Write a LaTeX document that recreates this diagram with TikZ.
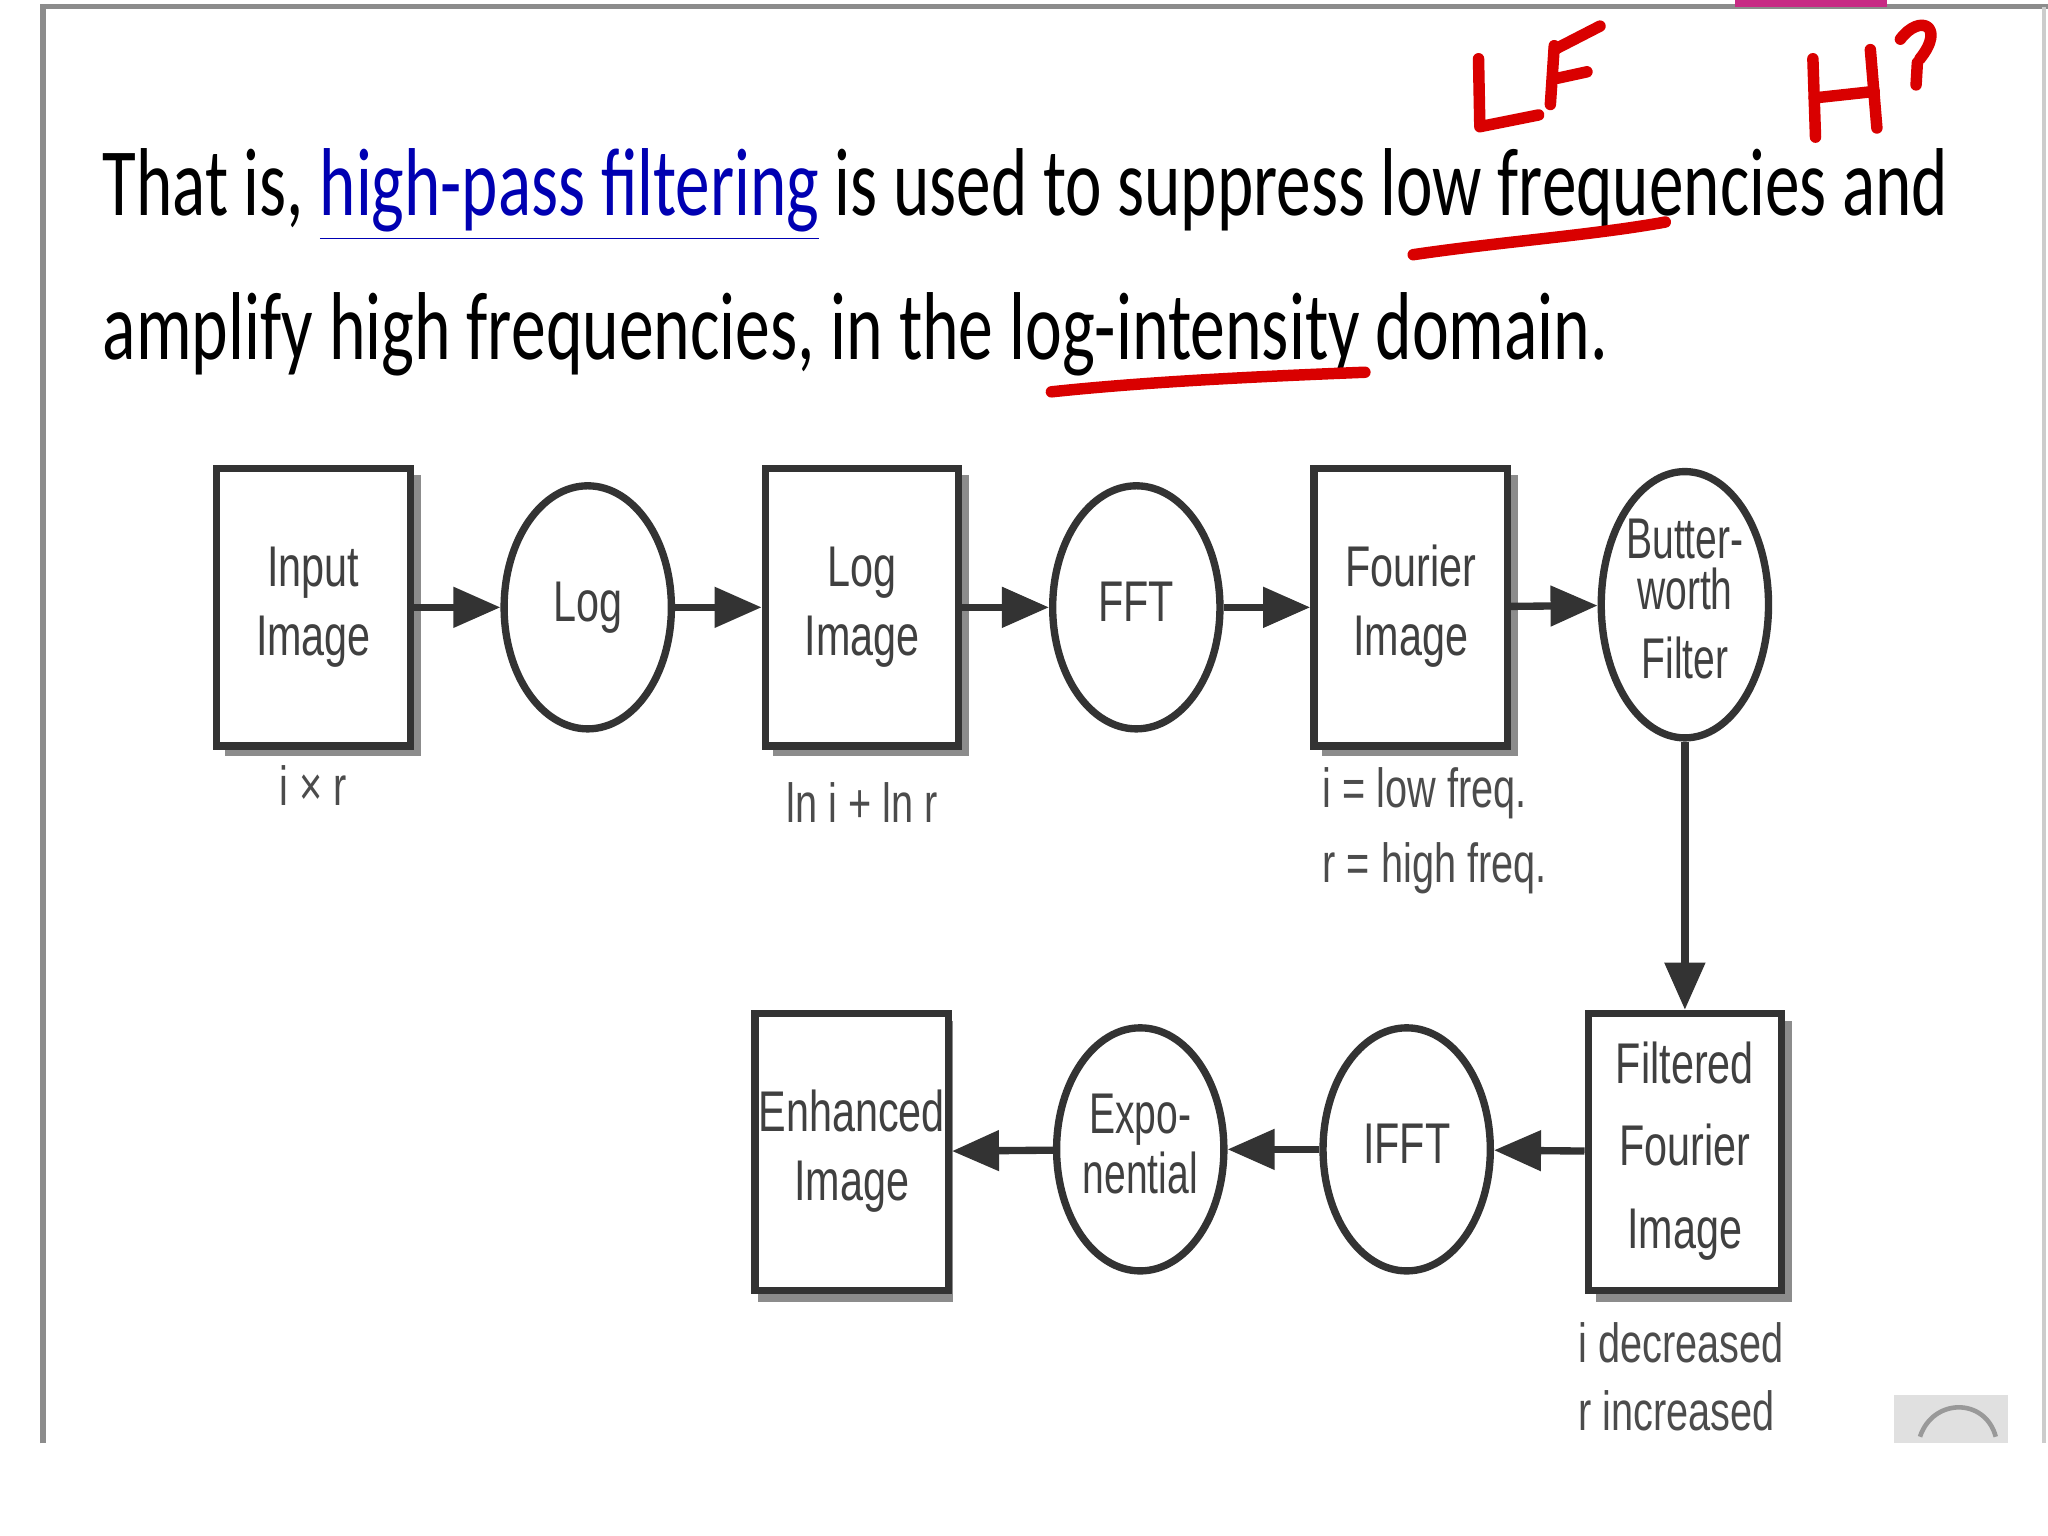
\documentclass[tikz,border=0pt]{standalone}
\usepackage{fontspec}
\setmainfont{Carlito}
\newfontfamily\dfont{Liberation Sans}
\usetikzlibrary{arrows.meta,shapes.geometric}
\newcommand\ds[1]{\scalebox{0.72}[1]{\begin{tabular}{@{}c@{}}#1\end{tabular}}}
\newcommand\tl[2]{\resizebox{#1}{\height}{\fontsize{21pt}{24pt}\selectfont #2}}
\tikzset{
  bx/.style={draw=black!80,line width=1.6pt,fill=white,minimum width=1.48cm,minimum height=2.12cm,inner sep=0pt,font=\dfont\fontsize{12.5pt}{15pt}\selectfont,text=black!75},
  cr/.style={draw=black!80,line width=1.6pt,ellipse,fill=white,minimum width=1.28cm,minimum height=1.86cm,inner sep=0pt,font=\dfont\fontsize{12.5pt}{15pt}\selectfont,text=black!75},
  lb/.style={font=\dfont\fontsize{12pt}{14pt}\selectfont,text=black!70,inner sep=0pt},
  ar/.style={line width=1.6pt,draw=black!80,-{Triangle[length=0.36cm,width=0.3cm]}},
  sh/.style={fill=black!45,draw=none},
  red/.style={draw=red!85!black,line width=2.5pt,line cap=round,line join=round}
}
\begin{document}
\begin{tikzpicture}[x=0.01cm,y=-0.01cm]
\useasboundingbox (0,0) rectangle (1568,1176);
\fill[white] (0,0) rectangle (1568,1176);
% slide frame
\draw[black!45,line width=1.2pt] (33,1105) -- (33,5) -- (1568,5);
\draw[black!20,line width=1pt] (1565,5) -- (1565,1105);
\fill[magenta!80!black] (1328,0) rectangle (1445,5);
% title
\node[anchor=base west,inner sep=0pt] (t1) at (78,165) {\tl{14.12cm}{That is, {\color{blue!70!black}\underline{high-pass filtering}} is used to suppress low frequencies and}};
\node[anchor=base west,inner sep=0pt] (t2) at (78,275) {\tl{11.52cm}{amplify high frequencies, in the log-intensity domain.}};
% red annotations
\draw[red] (1082,195) .. controls (1150,185) and (1220,180) .. (1275,170);
\draw[red] (805,300) .. controls (880,292) and (970,288) .. (1045,285);
\draw[red] (1132,45) -- (1133,97) -- (1178,88);
\draw[red] (1190,35) -- (1187,80); \draw[red] (1190,38) -- (1225,20); \draw[red] (1192,60) -- (1215,55);
\draw[red] (1388,45) -- (1390,105); \draw[red] (1389,75) -- (1435,70); \draw[red] (1432,38) -- (1437,98);
\draw[red] (1455,30) .. controls (1470,10) and (1490,20) .. (1470,45); \draw[red] (1468,48) -- (1467,65);
% boxes with shadows
\foreach \x/\y in {165/357,585/357,1005/357,1215/775,573/775}{\fill[sh] (\x+7,\y+7) rectangle ++(150,215);}
\node[bx] (inp) at (240,465) {\ds{Input\\Image}};
\node[cr] (log) at (450,465) {\ds{Log}};
\node[bx] (limg) at (660,465) {\ds{Log\\Image}};
\node[cr] (fft) at (870,465) {\ds{FFT}};
\node[bx] (four) at (1080,465) {\ds{Fourier\\Image}};
\node[cr] (bw) at (1290,463) {\scalebox{0.68}[1]{\begin{tabular}{@{}c@{}}Butter-\\[-4pt]worth\\Filter\end{tabular}}};
\node[bx] (filt) at (1290,882) {\ds{Filtered\\[3pt]Fourier\\[3pt]Image}};
\node[cr] (ifft) at (1077,880) {\ds{IFFT}};
\node[cr] (expo) at (873,880) {\scalebox{0.68}[1]{\begin{tabular}{@{}c@{}}Expo-\\[-2pt]nential\end{tabular}}};
\node[bx] (enh) at (652,882) {\ds{Enhanced\\Image}};
% labels
\node[lb] (l1) at (240,607) {\ds{i × r}};
\node[lb] (l2) at (660,620) {\ds{ln i + ln r}};
\node[lb,anchor=west] (l3) at (1012,607) {\scalebox{0.72}[1]{i = low freq.}};
\node[lb,anchor=west] (l4) at (1012,665) {\scalebox{0.72}[1]{r = high freq.}};
\node[lb,anchor=west] (l5) at (1208,1028) {\scalebox{0.72}[1]{i decreased}};
\node[lb,anchor=west] (l6) at (1208,1080) {\scalebox{0.72}[1]{r increased}};
% arrows
\draw[ar] (inp) -- (log);
\draw[ar] (log) -- (limg);
\draw[ar] (limg) -- (fft);
\draw[ar] (fft) -- (four);
\draw[ar] (four) -- (bw);
\draw[ar] (bw.south) -- (filt.north);
\draw[ar] (filt) -- (ifft);
\draw[ar] (ifft) -- (expo);
\draw[ar] (expo) -- (enh);
% corner icon
\fill[black!12] (1450,1068) rectangle (1537,1105);
\draw[black!40,line width=1pt] (1470,1100) .. controls (1480,1070) and (1520,1070) .. (1528,1100);
\end{tikzpicture}
\end{document}
